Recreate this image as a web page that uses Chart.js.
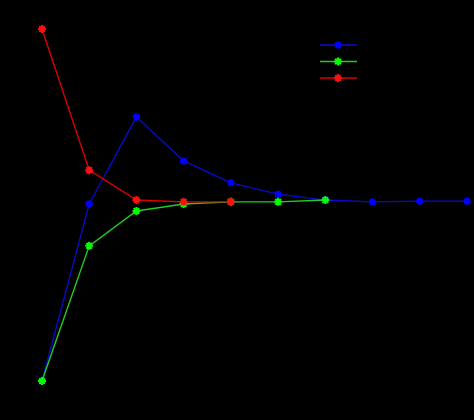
<!DOCTYPE html>
<html lang="en">
<head>
    <meta charset="UTF-8">
    <title>Convergence</title>
    <script src="https://cdn.jsdelivr.net/npm/chart.js"></script>
    <style>
        html, body { margin: 0; padding: 0; background: #000; }
        .wrap { width: 474px; height: 420px; }
    </style>
</head>
<body>
    <div class="wrap">
        <canvas id="myChart" width="474" height="420"></canvas>
    </div>
<script>
    // step index along the x axis
    const steps = [0, 1, 2, 3, 4, 5, 6, 7, 8, 9];

    const blueValues  = [0.0, 0.503, 0.750, 0.625, 0.563, 0.531, 0.514, 0.509, 0.511, 0.511];
    const greenValues = [0.0, 0.384, 0.483, 0.503, 0.509, 0.509, 0.514];
    const redValues   = [1.0, 0.599, 0.514, 0.509, 0.509];

    const seriesNames = ['blue', 'green', 'red'];

    function toPoints(vals){
        return vals.map((v, i) => ({ x: steps[i], y: v }));
    }

    // matplotlib-style legend: short line with marker in the middle
    const lineLegend = {
        id: 'lineLegend',
        afterDraw(chart){
            const ctx = chart.ctx;
            chart.data.datasets.forEach((ds, i) => {
                const y = 45 + i * 16.5;
                ctx.save();
                ctx.strokeStyle = ds.borderColor;
                ctx.lineWidth = ds.borderWidth;
                ctx.beginPath();
                ctx.moveTo(320, y);
                ctx.lineTo(357, y);
                ctx.stroke();
                ctx.fillStyle = ds.pointBackgroundColor;
                ctx.strokeStyle = ds.pointBorderColor;
                ctx.lineWidth = ds.pointBorderWidth;
                Chart.helpers.drawPoint(ctx, {
                    pointStyle: ds.pointStyle,
                    radius: ds.pointRadius,
                    borderWidth: ds.pointBorderWidth
                }, 338, y);
                ctx.restore();
            });
        }
    };

    const ctx = document.querySelector('#myChart');
    const myChart = new Chart(ctx, {
        type: 'line',
        data: {
            datasets: [{
                label: seriesNames[0],
                data: toPoints(blueValues),
                order: 3,
                borderColor: '#0a0acc',
                backgroundColor: '#0000ff',
                pointBackgroundColor: '#0000ff',
                pointBorderColor: '#0000ff',
                pointStyle: 'circle',
                pointRadius: 3.2,
                pointBorderWidth: 1,
                borderWidth: 1.4,
                tension: 0,
                clip: false
            }, {
                label: seriesNames[1],
                data: toPoints(greenValues),
                order: 2,
                borderColor: '#22cc22',
                backgroundColor: '#00ff00',
                pointBackgroundColor: '#00ff00',
                pointBorderColor: '#00ff00',
                pointStyle: 'star',
                pointRadius: 4,
                pointBorderWidth: 2,
                borderWidth: 1.4,
                tension: 0,
                clip: false
            }, {
                label: seriesNames[2],
                data: toPoints(redValues),
                order: 1,
                borderColor: '#dd0000',
                backgroundColor: '#ff0000',
                pointBackgroundColor: '#ff0000',
                pointBorderColor: '#ff1010',
                pointStyle: 'star',
                pointRadius: 4,
                pointBorderWidth: 2,
                borderWidth: 1.4,
                tension: 0,
                clip: false
            }]
        },
        options: {
            responsive: false,
            animation: false,
            layout: { padding: { left: 42, right: 7, top: 11.4, bottom: 21.4 } },
            plugins: {
                legend: { display: false },
                tooltip: { enabled: false }
            },
            scales: {
                x: { type: 'linear', min: 0, max: 9, display: false },
                y: { min: -0.05, max: 1.05, display: false }
            }
        },
        plugins: [lineLegend]
    });
</script>
</body>
</html>
